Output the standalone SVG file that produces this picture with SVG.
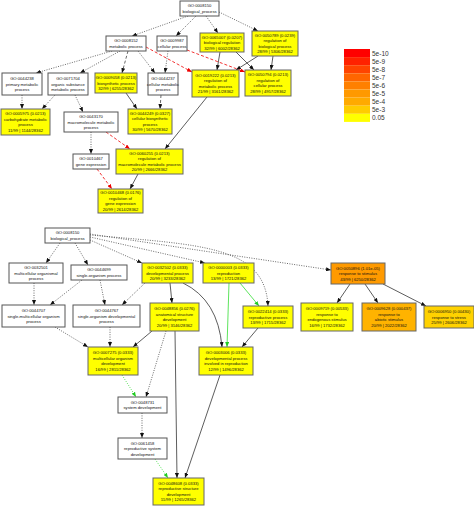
<svg xmlns="http://www.w3.org/2000/svg" width="474" height="507" viewBox="0 0 474 507">
<style>
.w{fill:#fff;stroke:#555;stroke-width:1}
.y{fill:#ffff00;stroke:#666;stroke-width:1}
.o1{fill:#ff9a00;stroke:#666;stroke-width:1}
.o2{fill:#ffb300;stroke:#666;stroke-width:1}
.o3{fill:#ffd200;stroke:#666;stroke-width:1}
text{font-family:"Liberation Sans",Arial,sans-serif;font-size:4.15px;fill:#111;text-anchor:middle}
.lg{font-size:6.5px;text-anchor:start;fill:#333}
.e{fill:none;stroke-width:0.8}
.dot{stroke:#444;stroke-dasharray:1 1.4;marker-end:url(#ak)}
.dash{stroke:#444;stroke-dasharray:3 2;marker-end:url(#ak)}
.sol{stroke:#333;marker-end:url(#ak)}
.rd{stroke:#e00;stroke-dasharray:3 2;marker-end:url(#ar)}
.gs{stroke:#3d3;marker-end:url(#ag)}
.gd{stroke:#3d3;stroke-dasharray:1 1.4;marker-end:url(#ag)}
</style>
<defs>
<marker id="ak" markerUnits="userSpaceOnUse" markerWidth="5" markerHeight="4" refX="5" refY="2" orient="auto"><path d="M0,0 L5,2 L0,4 z" fill="#111"/></marker>
<marker id="ar" markerUnits="userSpaceOnUse" markerWidth="5" markerHeight="4" refX="5" refY="2" orient="auto"><path d="M0,0 L5,2 L0,4 z" fill="#e00"/></marker>
<marker id="ag" markerUnits="userSpaceOnUse" markerWidth="5" markerHeight="4" refX="5" refY="2" orient="auto"><path d="M0,0 L5,2 L0,4 z" fill="#2c2"/></marker>
</defs>
<rect width="474" height="507" fill="#fff"/>
<g id="connectors">
<path class="e dot" d="M188,16 L132,36"/>
<path class="e dot" d="M196,16 L176,36"/>
<path class="e dot" d="M206,16 L218,33"/>
<path class="e dot" d="M219,12 L258,31"/>
<path class="e sol" d="M220,52 L217,70"/>
<path class="e sol" d="M236,52 L254,70"/>
<path class="e sol" d="M258,56 L236,70"/>
<path class="e sol" d="M273,56 L271,70"/>
<path class="e dot" d="M112,51 L36,73"/>
<path class="e dot" d="M120,51 L80,73"/>
<path class="e dash" d="M128,51 L122,73"/>
<path class="e dot" d="M138,51 L155,73"/>
<path class="e dot" d="M168,51 L165,73"/>
<path class="e rd" d="M146,47 L192,72"/>
<path class="e rd" d="M187,50 L245,72"/>
<path class="e dot" d="M22,95 L22,109"/>
<path class="e dot" d="M55,95 L42,109"/>
<path class="e dot" d="M75,95 L83,112"/>
<path class="e sol" d="M126,93 L137,109"/>
<path class="e dash" d="M161,95 L160,109"/>
<path class="e sol" d="M207,97 L165,149"/>
<path class="e rd" d="M106,132 L130,149"/>
<path class="e dot" d="M91,132 L91,154"/>
<path class="e rd" d="M97,169 L112,189"/>
<path class="e sol" d="M138,174 L130,189"/>
<path class="e dot" d="M60,243 L46,263"/>
<path class="e dot" d="M75,243 L88,265"/>
<path class="e dot" d="M90,240 L142,263"/>
<path class="e dot" d="M90,237 L205,263"/>
<path class="e dot" d="M90,235 C200,245 265,245 268,306"/>
<path class="e dot" d="M90,234 L331,270"/>
<path class="e dot" d="M34,283 L34,305"/>
<path class="e dot" d="M82,280 L50,305"/>
<path class="e dot" d="M100,280 L105,305"/>
<path class="e dot" d="M145,283 L122,305"/>
<path class="e sol" d="M170,283 L172,303"/>
<path class="e sol" d="M183,283 Q218,300 222,347"/>
<path class="e gs" d="M229,283 L227,347"/>
<path class="e gs" d="M240,283 L259,306"/>
<path class="e sol" d="M258,328 L242,347"/>
<path class="e sol" d="M350,284 L337,303"/>
<path class="e sol" d="M365,284 L378,303"/>
<path class="e sol" d="M383,284 L426,306"/>
<path class="e dot" d="M55,327 L88,347"/>
<path class="e dot" d="M110,327 L110,347"/>
<path class="e sol" d="M152,331 L133,347"/>
<path class="e dot" d="M166,331 L146,397"/>
<path class="e sol" d="M175,331 L177,478"/>
<path class="e sol" d="M220,375 L185,478"/>
<path class="e gd" d="M122,375 L136,397"/>
<path class="e dot" d="M142,413 L142,438"/>
<path class="e gd" d="M155,459 L168,478"/>
</g>
<g id="legend">
<rect x="344" y="49" width="26" height="8.1" fill="#ff0000"/>
<rect x="344" y="57.1" width="26" height="8.1" fill="#ff2200"/>
<rect x="344" y="65.2" width="26" height="8.1" fill="#ff4400"/>
<rect x="344" y="73.3" width="26" height="8.1" fill="#ff6600"/>
<rect x="344" y="81.4" width="26" height="8.1" fill="#ff8000"/>
<rect x="344" y="89.5" width="26" height="8.1" fill="#ff9900"/>
<rect x="344" y="97.6" width="26" height="8.1" fill="#ffaa00"/>
<rect x="344" y="105.7" width="26" height="8.1" fill="#ffcc00"/>
<rect x="344" y="113.8" width="26" height="8.1" fill="#ffff00"/>
<text class="lg" x="372" y="55.5">5e-10</text>
<text class="lg" x="372" y="63.6">5e-9</text>
<text class="lg" x="372" y="71.7">5e-8</text>
<text class="lg" x="372" y="79.8">5e-7</text>
<text class="lg" x="372" y="87.9">5e-6</text>
<text class="lg" x="372" y="96">5e-5</text>
<text class="lg" x="372" y="104.1">5e-4</text>
<text class="lg" x="372" y="112.2">5e-3</text>
<text class="lg" x="372" y="120.3">0.05</text>
</g>
<g id="n1"><rect class="w" x="180" y="1" width="39" height="15"/><text x="199.5" y="7.4">GO:0008150</text><text x="199.5" y="12.9">biological_process</text></g>
<g id="n2"><rect class="w" x="106" y="36" width="40" height="15"/><text x="126" y="42.4">GO:0008152</text><text x="126" y="47.9">metabolic process</text></g>
<g id="n3"><rect class="w" x="157" y="36" width="30" height="15"/><text x="172" y="42.4">GO:0009987</text><text x="172" y="47.9">cellular process</text></g>
<g id="n4"><rect class="y" x="200" y="33" width="44" height="19"/><text x="222" y="38.6">GO:0065007 (0.0207)</text><text x="222" y="44.1">biological regulation</text><text x="222" y="49.6">32/99 | 6002/28362</text></g>
<g id="n5"><rect class="y" x="252" y="31" width="46" height="25"/><text x="275" y="36.9">GO:0050789 (0.0239)</text><text x="275" y="42.4">regulation of</text><text x="275" y="47.9">biological process</text><text x="275" y="53.4">28/99 | 5306/28362</text></g>
<g id="n6"><rect class="w" x="2" y="73" width="40" height="22"/><text x="22" y="80.1">GO:0044238</text><text x="22" y="85.6">primary metabolic</text><text x="22" y="91.1">process</text></g>
<g id="n7"><rect class="w" x="48" y="73" width="40" height="22"/><text x="68" y="80.1">GO:0071704</text><text x="68" y="85.6">organic substance</text><text x="68" y="91.1">metabolic process</text></g>
<g id="n8"><rect class="y" x="95" y="73" width="42" height="20"/><text x="116" y="79.1">GO:0009058 (0.0213)</text><text x="116" y="84.6">biosynthetic process</text><text x="116" y="90.1">32/99 | 6255/28362</text></g>
<g id="n9"><rect class="w" x="148" y="73" width="30" height="22"/><text x="163" y="80.1">GO:0044237</text><text x="163" y="85.6">cellular metabolic</text><text x="163" y="91.1">process</text></g>
<g id="n10"><rect class="y" x="192" y="70" width="47" height="27"/><text x="215.5" y="76.9">GO:0019222 (0.0213)</text><text x="215.5" y="82.4">regulation of</text><text x="215.5" y="87.9">metabolic process</text><text x="215.5" y="93.4">21/99 | 3161/28362</text></g>
<g id="n11"><rect class="y" x="245" y="70" width="46" height="26"/><text x="268" y="76.4">GO:0050794 (0.0213)</text><text x="268" y="81.9">regulation of</text><text x="268" y="87.4">cellular process</text><text x="268" y="92.9">28/99 | 4957/28362</text></g>
<g id="n12"><rect class="y" x="1" y="109" width="49" height="26"/><text x="25.5" y="115.4">GO:0005975 (0.0213)</text><text x="25.5" y="120.9">carbohydrate metabolic</text><text x="25.5" y="126.4">process</text><text x="25.5" y="131.9">11/99 | 1144/28362</text></g>
<g id="n13"><rect class="w" x="64" y="112" width="54" height="20"/><text x="91" y="118.1">GO:0043170</text><text x="91" y="123.6">macromolecule metabolic</text><text x="91" y="129.1">process</text></g>
<g id="n14"><rect class="y" x="128" y="109" width="44" height="25"/><text x="150" y="114.9">GO:0044249 (0.0327)</text><text x="150" y="120.4">cellular biosynthetic</text><text x="150" y="125.9">process</text><text x="150" y="131.4">30/99 | 5670/28362</text></g>
<g id="n15"><rect class="w" x="73" y="154" width="36" height="15"/><text x="91" y="160.4">GO:0010467</text><text x="91" y="165.9">gene expression</text></g>
<g id="n16"><rect class="y" x="116" y="149" width="67" height="25"/><text x="149.5" y="154.9">GO:0060255 (0.0213)</text><text x="149.5" y="160.4">regulation of</text><text x="149.5" y="165.9">macromolecule metabolic process</text><text x="149.5" y="171.4">20/99 | 2666/28362</text></g>
<g id="n17"><rect class="y" x="98" y="189" width="45" height="24"/><text x="120.5" y="194.4">GO:0010468 (0.0176)</text><text x="120.5" y="199.9">regulation of</text><text x="120.5" y="205.4">gene expression</text><text x="120.5" y="210.9">20/99 | 2614/28362</text></g>
<g id="m1"><rect class="w" x="45" y="228" width="45" height="15"/><text x="67.5" y="234.4">GO:0008150</text><text x="67.5" y="239.9">biological_process</text></g>
<g id="m2"><rect class="w" x="9" y="263" width="54" height="20"/><text x="36" y="269.1">GO:0032501</text><text x="36" y="274.6">multicellular organismal</text><text x="36" y="280.1">process</text></g>
<g id="m3"><rect class="w" x="71" y="265" width="56" height="15"/><text x="99" y="271.4">GO:0044699</text><text x="99" y="276.9">single-organism process</text></g>
<g id="m4"><rect class="y" x="142" y="263" width="51" height="20"/><text x="167.5" y="269.1">GO:0032502 (0.0333)</text><text x="167.5" y="274.6">developmental process</text><text x="167.5" y="280.1">20/99 | 3233/28362</text></g>
<g id="m5"><rect class="y" x="203" y="263" width="51" height="20"/><text x="228.5" y="269.1">GO:0000003 (0.0333)</text><text x="228.5" y="274.6">reproduction</text><text x="228.5" y="280.1">13/99 | 1721/28362</text></g>
<g id="m6"><rect class="o1" x="331" y="263" width="54" height="21"/><text x="358" y="269.6">GO:0050896 (1.01e-05)</text><text x="358" y="275.1">response to stimulus</text><text x="358" y="280.6">43/99 | 6250/28362</text></g>
<g id="m7"><rect class="w" x="2" y="305" width="63" height="22"/><text x="33.5" y="312.1">GO:0044707</text><text x="33.5" y="317.6">single-multicellular organism</text><text x="33.5" y="323.1">process</text></g>
<g id="m8"><rect class="w" x="73" y="305" width="67" height="22"/><text x="106.5" y="312.1">GO:0044767</text><text x="106.5" y="317.6">single-organism developmental</text><text x="106.5" y="323.1">process</text></g>
<g id="m9"><rect class="y" x="150" y="303" width="49" height="28"/><text x="174.5" y="310.4">GO:0048856 (0.0276)</text><text x="174.5" y="315.9">anatomical structure</text><text x="174.5" y="321.4">development</text><text x="174.5" y="326.9">20/99 | 3146/28362</text></g>
<g id="m10"><rect class="y" x="243" y="306" width="50" height="22"/><text x="268" y="313.1">GO:0022414 (0.0333)</text><text x="268" y="318.6">reproductive process</text><text x="268" y="324.1">13/99 | 1715/28362</text></g>
<g id="m11"><rect class="y" x="301" y="303" width="52" height="28"/><text x="327" y="310.4">GO:0009719 (0.00533)</text><text x="327" y="315.9">response to</text><text x="327" y="321.4">endogenous stimulus</text><text x="327" y="326.9">16/99 | 1732/28362</text></g>
<g id="m12"><rect class="o2" x="362" y="303" width="54" height="28"/><text x="389" y="310.4">GO:0009628 (0.000437)</text><text x="389" y="315.9">response to</text><text x="389" y="321.4">abiotic stimulus</text><text x="389" y="326.9">20/99 | 2022/28362</text></g>
<g id="m13"><rect class="o3" x="424" y="306" width="50" height="22"/><text x="449" y="313.1">GO:0006950 (0.00430)</text><text x="449" y="318.6">response to stress</text><text x="449" y="324.1">25/99 | 2606/28362</text></g>
<g id="m14"><rect class="y" x="88" y="347" width="50" height="28"/><text x="113" y="354.4">GO:0007275 (0.0333)</text><text x="113" y="359.9">multicellular organism</text><text x="113" y="365.4">development</text><text x="113" y="370.9">16/99 | 2811/28362</text></g>
<g id="m15"><rect class="y" x="199" y="347" width="54" height="28"/><text x="226" y="354.4">GO:0003006 (0.0333)</text><text x="226" y="359.9">developmental process</text><text x="226" y="365.4">involved in reproduction</text><text x="226" y="370.9">12/99 | 1496/28362</text></g>
<g id="m16"><rect class="w" x="118" y="397" width="49" height="16"/><text x="142.5" y="403.9">GO:0048731</text><text x="142.5" y="409.4">system development</text></g>
<g id="m17"><rect class="w" x="118" y="438" width="49" height="21"/><text x="142.5" y="444.6">GO:0061458</text><text x="142.5" y="450.1">reproductive system</text><text x="142.5" y="455.6">development</text></g>
<g id="m18"><rect class="y" x="153" y="478" width="51" height="27"/><text x="178.5" y="484.9">GO:0048608 (0.0333)</text><text x="178.5" y="490.4">reproductive structure</text><text x="178.5" y="495.9">development</text><text x="178.5" y="501.4">11/99 | 1265/28362</text></g>
</svg>
